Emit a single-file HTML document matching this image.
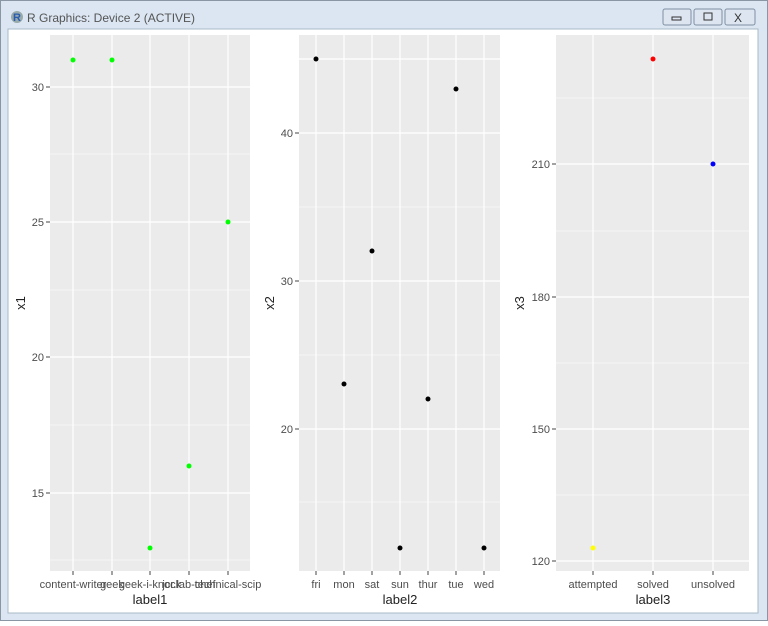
<!DOCTYPE html>
<html><head><meta charset="utf-8"><style>
body{margin:0;width:768px;height:621px;overflow:hidden;background:#fff;font-family:"Liberation Sans",sans-serif}
</style></head><body>
<svg width="768" height="621" xmlns="http://www.w3.org/2000/svg" font-family="Liberation Sans, sans-serif">
<rect x="0" y="0" width="768" height="621" fill="#dbe6f2"/>
<rect x="0.5" y="0.5" width="767" height="620" fill="none" stroke="#8a96a3"/>
<rect x="8" y="29" width="750" height="584" fill="#fff" stroke="#aab8c8"/>
<circle cx="17" cy="17" r="6" fill="#9aa"/><text x="13" y="21" font-size="11" font-weight="bold" fill="#2a5db0">R</text>
<text x="27" y="22" font-size="12" fill="#555">R Graphics: Device 2 (ACTIVE)</text>
<rect x="663" y="9" width="28" height="16" rx="2" fill="#dde6f0" stroke="#7f8fa3"/><rect x="672" y="17" width="9" height="3" fill="none" stroke="#333"/>
<rect x="694" y="9" width="28" height="16" rx="2" fill="#dde6f0" stroke="#7f8fa3"/><rect x="704" y="13" width="8" height="7" fill="none" stroke="#333"/>
<rect x="725" y="9" width="30" height="16" rx="2" fill="#dde6f0" stroke="#7f8fa3"/><text x="734" y="22" font-size="12" fill="#333">X</text>

<g stroke="#fff" fill="none">
<!-- panel1 -->
<rect x="50" y="35" width="200" height="536" fill="#ebebeb" stroke="none"/>
<g stroke-width="0.6"><line x1="50" x2="250" y1="154" y2="154"/><line x1="50" x2="250" y1="290" y2="290"/><line x1="50" x2="250" y1="425" y2="425"/><line x1="50" x2="250" y1="560" y2="560"/></g>
<g stroke-width="1.2"><line x1="50" x2="250" y1="87" y2="87"/><line x1="50" x2="250" y1="222" y2="222"/><line x1="50" x2="250" y1="357" y2="357"/><line x1="50" x2="250" y1="493" y2="493"/>
<line x1="73" x2="73" y1="35" y2="571"/><line x1="112" x2="112" y1="35" y2="571"/><line x1="150" x2="150" y1="35" y2="571"/><line x1="189" x2="189" y1="35" y2="571"/><line x1="228" x2="228" y1="35" y2="571"/></g>
<!-- panel2 -->
<rect x="299" y="35" width="201" height="536" fill="#ebebeb" stroke="none"/>
<g stroke-width="0.6"><line x1="299" x2="500" y1="207" y2="207"/><line x1="299" x2="500" y1="355" y2="355"/><line x1="299" x2="500" y1="502" y2="502"/></g>
<g stroke-width="1.2"><line x1="299" x2="500" y1="59" y2="59"/><line x1="299" x2="500" y1="133" y2="133"/><line x1="299" x2="500" y1="281" y2="281"/><line x1="299" x2="500" y1="429" y2="429"/>
<line x1="316" x2="316" y1="35" y2="571"/><line x1="344" x2="344" y1="35" y2="571"/><line x1="372" x2="372" y1="35" y2="571"/><line x1="400" x2="400" y1="35" y2="571"/><line x1="428" x2="428" y1="35" y2="571"/><line x1="456" x2="456" y1="35" y2="571"/><line x1="484" x2="484" y1="35" y2="571"/></g>
<!-- panel3 -->
<rect x="556" y="35" width="193" height="536" fill="#ebebeb" stroke="none"/>
<g stroke-width="0.6"><line x1="556" x2="749" y1="98" y2="98"/><line x1="556" x2="749" y1="231" y2="231"/><line x1="556" x2="749" y1="363" y2="363"/><line x1="556" x2="749" y1="495" y2="495"/></g>
<g stroke-width="1.2"><line x1="556" x2="749" y1="164" y2="164"/><line x1="556" x2="749" y1="297" y2="297"/><line x1="556" x2="749" y1="429" y2="429"/><line x1="556" x2="749" y1="561" y2="561"/>
<line x1="593" x2="593" y1="35" y2="571"/><line x1="653" x2="653" y1="35" y2="571"/><line x1="713" x2="713" y1="35" y2="571"/></g>
</g>
<!-- ticks -->
<g stroke="#444" stroke-width="1">
<line x1="46" x2="50" y1="87" y2="87"/><line x1="46" x2="50" y1="222" y2="222"/><line x1="46" x2="50" y1="357" y2="357"/><line x1="46" x2="50" y1="493" y2="493"/>
<line x1="73" x2="73" y1="571" y2="575"/><line x1="112" x2="112" y1="571" y2="575"/><line x1="150" x2="150" y1="571" y2="575"/><line x1="189" x2="189" y1="571" y2="575"/><line x1="228" x2="228" y1="571" y2="575"/>
<line x1="295" x2="299" y1="133" y2="133"/><line x1="295" x2="299" y1="281" y2="281"/><line x1="295" x2="299" y1="429" y2="429"/>
<line x1="316" x2="316" y1="571" y2="575"/><line x1="344" x2="344" y1="571" y2="575"/><line x1="372" x2="372" y1="571" y2="575"/><line x1="400" x2="400" y1="571" y2="575"/><line x1="428" x2="428" y1="571" y2="575"/><line x1="456" x2="456" y1="571" y2="575"/><line x1="484" x2="484" y1="571" y2="575"/>
<line x1="552" x2="556" y1="164" y2="164"/><line x1="552" x2="556" y1="297" y2="297"/><line x1="552" x2="556" y1="429" y2="429"/><line x1="552" x2="556" y1="561" y2="561"/>
<line x1="593" x2="593" y1="571" y2="575"/><line x1="653" x2="653" y1="571" y2="575"/><line x1="713" x2="713" y1="571" y2="575"/>
</g>
<g font-size="11" fill="#4d4d4d" text-anchor="end">
<text x="44" y="91">30</text><text x="44" y="226">25</text><text x="44" y="361">20</text><text x="44" y="497">15</text>
<text x="293" y="137">40</text><text x="293" y="285">30</text><text x="293" y="433">20</text>
<text x="550" y="168">210</text><text x="550" y="301">180</text><text x="550" y="433">150</text><text x="550" y="565">120</text>
</g>
<g font-size="11" fill="#4d4d4d" text-anchor="middle">
<text x="73" y="588">content-writer</text><text x="112" y="588">geek</text><text x="150" y="588">geek-i-knock</text><text x="189" y="588">jcr.lab-chef</text><text x="228" y="588">technical-scip</text>
<text x="316" y="588">fri</text><text x="344" y="588">mon</text><text x="372" y="588">sat</text><text x="400" y="588">sun</text><text x="428" y="588">thur</text><text x="456" y="588">tue</text><text x="484" y="588">wed</text>
<text x="593" y="588">attempted</text><text x="653" y="588">solved</text><text x="713" y="588">unsolved</text>
</g>
<g font-size="13" fill="#222" text-anchor="middle">
<text x="150" y="604">label1</text><text x="400" y="604">label2</text><text x="653" y="604">label3</text>
<text transform="translate(25,303) rotate(-90)">x1</text>
<text transform="translate(274,303) rotate(-90)">x2</text>
<text transform="translate(524,303) rotate(-90)">x3</text>
</g>
<g fill="#00ff00"><circle cx="73" cy="60" r="2.5"/><circle cx="112" cy="60" r="2.5"/><circle cx="150" cy="548" r="2.5"/><circle cx="189" cy="466" r="2.5"/><circle cx="228" cy="222" r="2.5"/></g>
<g fill="#000"><circle cx="316" cy="59" r="2.5"/><circle cx="344" cy="384" r="2.5"/><circle cx="372" cy="251" r="2.5"/><circle cx="400" cy="548" r="2.5"/><circle cx="428" cy="399" r="2.5"/><circle cx="456" cy="89" r="2.5"/><circle cx="484" cy="548" r="2.5"/></g>
<circle cx="593" cy="548" r="2.5" fill="#ffff00"/><circle cx="653" cy="59" r="2.5" fill="#ff0000"/><circle cx="713" cy="164" r="2.5" fill="#0000ff"/>
</svg>
</body></html>
